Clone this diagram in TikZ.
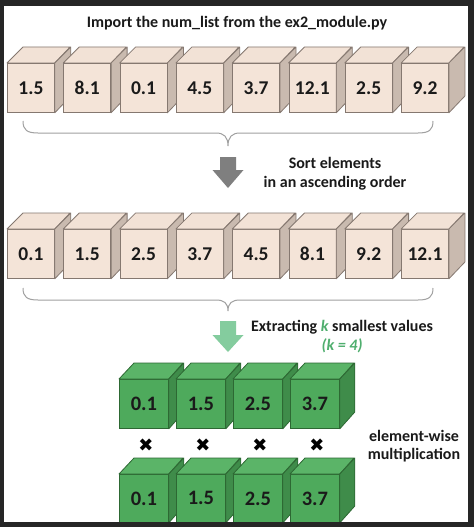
\documentclass[tikz,border=0pt]{standalone}
\usepackage{fontspec}
\setmainfont{Carlito}
\newfontfamily\symfont{DejaVu Sans}
\definecolor{framec}{HTML}{262626}
\definecolor{bfrontc}{HTML}{F4E4D8}
\definecolor{btopc}{HTML}{F2E2D6}
\definecolor{bsidec}{HTML}{C9BAAF}
\definecolor{blinec}{HTML}{857870}
\definecolor{gfrontc}{HTML}{4EAA5C}
\definecolor{gtopc}{HTML}{5BB468}
\definecolor{gsidec}{HTML}{3F8C4A}
\definecolor{glinec}{HTML}{2D6833}
\definecolor{arrowgray}{HTML}{7F7F7F}
\definecolor{arrowgreen}{HTML}{84CC9E}
\definecolor{kgreen}{HTML}{4FAE6E}
\definecolor{bracec}{HTML}{A0A0A0}
\definecolor{txtc}{HTML}{1A1A1A}
\tikzset{
  bfront/.style={draw=blinec, fill=bfrontc, line width=0.8pt, anchor=north west,
    minimum width=47pt, minimum height=49pt, inner sep=0pt, text=txtc,
    font=\fontsize{19.5}{22}\selectfont\bfseries},
  btop/.style={draw=blinec, fill=btopc, line width=0.8pt, line join=round},
  bside/.style={draw=blinec, fill=bsidec, line width=0.8pt, line join=round},
  gfront/.style={draw=glinec, fill=gfrontc, line width=0.8pt, anchor=north west,
    minimum width=49pt, minimum height=49pt, inner sep=0pt, text=txtc,
    font=\fontsize{20.5}{22}\selectfont\bfseries},
  gtop/.style={draw=glinec, fill=gtopc, line width=0.8pt, line join=round},
  gside/.style={draw=glinec, fill=gsidec, line width=0.8pt, line join=round},
  lbl/.style={text=txtc, font=\fontsize{16}{19}\selectfont\bfseries, align=center, inner sep=0pt},
  bracestyle/.style={draw=bracec, line width=1pt},
  crossmark/.style={font=\symfont\fontsize{18}{18}\selectfont, text=black, inner sep=0pt}
}
\begin{document}
\begin{tikzpicture}[x=1pt,y=-1pt]
\fill[framec] (0,0) rectangle (474,527);
\fill[white] (4,6) rectangle (468,522);
\useasboundingbox (0,0) rectangle (474,527);

% title
\node[lbl] (title) at (237,23) {Import the num\_list from the ex2\_module.py};

% row 1
\foreach \v [count=\i from 0] in {1.5,8.1,0.1,4.5,3.7,12.1,2.5,9.2} {
  \node[bfront] (a\i) at ({7+56.3*\i},63) {\v};
  \filldraw[btop] (a\i.north west) -- ++(16,-16) -- ++(47,0) -- (a\i.north east) -- cycle;
  \filldraw[bside] (a\i.north east) -- ++(16,-16) -- ++(0,49) -- (a\i.south east) -- cycle;
}

% brace 1
\draw[bracestyle] (23,121) .. controls (23,130) and (27,133) .. (38,133) -- (216,133)
  .. controls (224,133) and (228,137) .. (228,146)
  .. controls (228,137) and (232,133) .. (240,133) -- (418,133)
  .. controls (429,133) and (433,130) .. (433,121);

% gray arrow
\fill[arrowgray] (220,157) -- (236,157) -- (236,170) -- (243.5,170) -- (228,188) -- (212.5,170) -- (220,170) -- cycle;
\node[lbl] (sort) at (335,173.5) {Sort elements\\in an ascending order};

% row 2
\foreach \v [count=\i from 0] in {0.1,1.5,2.5,3.7,4.5,8.1,9.2,12.1} {
  \node[bfront] (b\i) at ({7+56.3*\i},229) {\v};
  \filldraw[btop] (b\i.north west) -- ++(16,-16) -- ++(47,0) -- (b\i.north east) -- cycle;
  \filldraw[bside] (b\i.north east) -- ++(16,-16) -- ++(0,49) -- (b\i.south east) -- cycle;
}

% brace 2
\draw[bracestyle] (23,288) .. controls (23,297) and (27,300) .. (38,300) -- (216,300)
  .. controls (224,300) and (228,303) .. (228,311)
  .. controls (228,303) and (232,300) .. (240,300) -- (418,300)
  .. controls (429,300) and (433,297) .. (433,288);

% green arrow
\fill[arrowgreen] (220,321) -- (236,321) -- (236,335) -- (243.5,335) -- (228,352) -- (212.5,335) -- (220,335) -- cycle;
\node[lbl] (extract) at (342,337) {Extracting \textcolor{kgreen}{\itshape k} smallest values\\
  \textcolor{kgreen}{\itshape (k = 4)}};

% green rows
\foreach \v [count=\i from 0] in {0.1,1.5,2.5,3.7} {
  \node[gfront] (c\i) at ({119+57*\i},379) {\v};
  \filldraw[gtop] (c\i.north west) -- ++(15,-16) -- ++(49,0) -- (c\i.north east) -- cycle;
  \filldraw[gside] (c\i.north east) -- ++(15,-16) -- ++(0,49) -- (c\i.south east) -- cycle;
  \node[crossmark] (x\i) at ({146+57*\i},445) {✖};
  \node[gfront, minimum height=48pt] (d\i) at ({119+57*\i},474) {\raisebox{-2pt}{\v}};
  \filldraw[gtop] (d\i.north west) -- ++(15,-16) -- ++(49,0) -- (d\i.north east) -- cycle;
  \filldraw[gside] (d\i.north east) -- ++(15,-16) -- ++(0,48) -- (d\i.south east) -- cycle;
}
\node[lbl, font=\fontsize{16}{18}\selectfont\bfseries] (mult) at (414,446) {element-wise\\multiplication};

% bottom frame over boxes
\fill[framec] (0,522) rectangle (474,527);
\end{tikzpicture}
\end{document}
